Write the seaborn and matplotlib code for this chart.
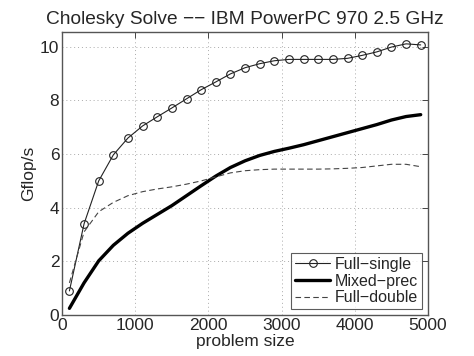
import numpy as np
import pandas as pd
import matplotlib
matplotlib.use("Agg")
import matplotlib.pyplot as plt
import seaborn as sns

# problem sizes (every 200, starting at 100)
sizes = [100, 300, 500, 700, 900, 1100, 1300, 1500, 1700, 1900, 2100, 2300, 2500,
         2700, 2900, 3100, 3300, 3500, 3700, 3900, 4100, 4300, 4500, 4700, 4900]

full_single = [0.9, 3.4, 5.0, 5.97, 6.6, 7.05, 7.39, 7.72, 8.06, 8.4, 8.69, 8.99, 9.22,
               9.37, 9.48, 9.53, 9.53, 9.53, 9.53, 9.57, 9.68, 9.81, 9.99, 10.11, 10.07]

mixed_prec = [0.25, 1.2, 2.02, 2.6, 3.05, 3.42, 3.75, 4.08, 4.45, 4.82, 5.18, 5.5, 5.75,
              5.95, 6.1, 6.22, 6.35, 6.5, 6.65, 6.8, 6.95, 7.1, 7.27, 7.4, 7.47]

full_double = [1.2, 3.1, 3.85, 4.2, 4.45, 4.6, 4.7, 4.78, 4.88, 5.0, 5.15, 5.3, 5.38,
               5.42, 5.44, 5.44, 5.44, 5.44, 5.45, 5.47, 5.5, 5.56, 5.62, 5.62, 5.53]

sns.set_style("white")
plt.rcParams['font.family'] = ['Liberation Sans', 'DejaVu Sans']

fig = plt.figure(figsize=(4.74, 3.56), dpi=100)
ax = fig.add_axes([0.131, 0.115, 0.772, 0.795])

sns.lineplot(x=sizes, y=full_single, ax=ax, color='#222222', lw=0.8,
             marker='o', markersize=5.5, markerfacecolor='none',
             markeredgecolor='#222222', markeredgewidth=0.8, label='Full\u2212single')
sns.lineplot(x=sizes, y=mixed_prec, ax=ax, color='black', lw=2.4, label='Mixed\u2212prec')
sns.lineplot(x=sizes, y=full_double, ax=ax, color='#444444', lw=0.8,
             linestyle=(0, (5, 3)), label='Full\u2212double')

ax.set_xlim(0, 5000)
ax.set_ylim(0, 10.55)
ax.set_xticks([0, 1000, 2000, 3000, 4000, 5000])
ax.set_yticks([0, 2, 4, 6, 8, 10])
ax.grid(True, linestyle=(0, (1, 3)), color='#aaaaaa', lw=0.7)
ax.tick_params(direction='in', length=4, width=0.7, labelsize=12.5, color='#444444',
               top=True, right=True, pad=2)
for s in ax.spines.values():
    s.set_visible(True)
    s.set_color('#555555')
    s.set_linewidth(1.0)

ax.set_xlabel('problem size', fontsize=12.5, labelpad=1)
ax.set_ylabel('Gflop/s', fontsize=12.5, labelpad=3)
ax.set_title('Cholesky Solve \u2212\u2212 IBM PowerPC 970 2.5 GHz', fontsize=13.8, pad=6)

leg = ax.legend(loc='lower right', fontsize=11.5, frameon=True, fancybox=False,
                borderaxespad=0.35, handlelength=2.2, labelspacing=0.12,
                borderpad=0.25, handletextpad=0.3)
leg.get_frame().set_edgecolor('#333333')
leg.get_frame().set_linewidth(0.8)

fig.savefig('out.png', dpi=100)
